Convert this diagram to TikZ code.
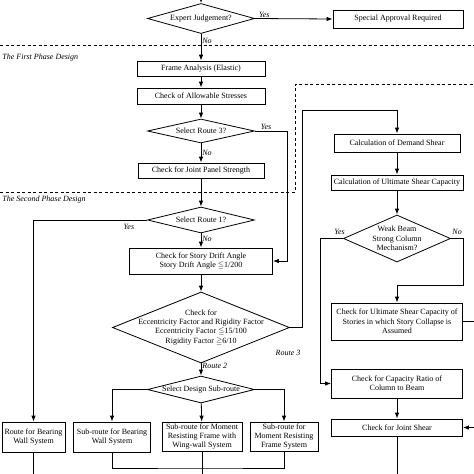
\documentclass[tikz,border=0pt]{standalone}
\usepackage{amssymb}
\usepackage{fontspec}
\setmainfont{Liberation Serif}
\usetikzlibrary{arrows.meta,shapes.geometric}

\begin{document}
\begin{tikzpicture}[x=1pt,y=-1pt,line width=0.8pt,>={Latex[length=6pt,width=4.5pt]},
    font=\fontsize{8}{9.3}\selectfont,
    box/.style={draw,align=center,inner sep=1pt},
    dec/.style={draw,diamond,inner sep=0pt},
    lbl/.style={font=\fontsize{8}{9.3}\selectfont\itshape,inner sep=1pt},
    phase/.style={dash pattern=on 3pt off 2.5pt},
    every label/.style={align=center,inner sep=0pt}]
    \useasboundingbox (0,0) rectangle (474,474);
    \node[dec,minimum width=107pt,minimum height=30pt,label={center:Expert Judgement?}] (11) at (201,18.5) {};
    \node[box,minimum width=130pt,minimum height=18pt] (21) at (398,19) {Special Approval Required};
    \node[box,minimum width=128pt,minimum height=15pt] (12) at (201,68.5) {Frame Analysis (Elastic)};
    \node[box,minimum width=128pt,minimum height=16pt] (13) at (201,96) {Check of Allowable Stresses};
    \node[dec,minimum width=107pt,minimum height=24pt,label={center:Select Route 3?}] (14) at (201,131) {};
    \node[box,minimum width=126pt,minimum height=15pt] (15) at (201,170.5) {Check for Joint Panel Strength};
    \node[dec,minimum width=107pt,minimum height=26pt,label={center:Select Route 1?}] (16) at (201,220) {};
    \node[box,minimum width=143pt,minimum height=26pt] (17) at (201,261) {Check for Story Drift Angle\\Story Drift Angle $\leqq$1/200};
    \node[dec,minimum width=177pt,minimum height=71pt,label={center:Check for\\Eccentricity Factor and Rigidity Factor\\Eccentricity Factor $\leqq$15/100\\Rigidity Factor $\geqq$6/10}] (18) at (201,327.5) {};
    \node[dec,minimum width=107pt,minimum height=27pt,label={center:Select Design Sub-route}] (19) at (201,389.5) {};
    \node[box,minimum width=63pt,minimum height=30pt] (41) at (33.5,437) {Route for Bearing\\Wall System};
    \node[box,minimum width=77pt,minimum height=30pt] (42) at (112,437) {Sub-route for Bearing\\Wall System};
    \node[box,minimum width=80pt,minimum height=29pt] (43) at (202,436.5) {Sub-route for Moment\\Resisting Frame with\\Wing-wall System};
    \node[box,minimum width=68pt,minimum height=29pt] (44) at (284,436.5) {Sub-route for\\Moment Resisting\\Frame System};
    \node[box,minimum width=126pt,minimum height=18pt] (31) at (397,143) {Calculation of Demand Shear};
    \node[box,minimum width=132pt,minimum height=15pt] (32) at (397,182.5) {Calculation of Ultimate Shear Capacity};
    \node[dec,minimum width=107pt,minimum height=47pt,label={center:Weak Beam\\Strong Column\\Mechanism?}] (33) at (397,238.5) {};
    \node[box,minimum width=131pt,minimum height=37pt] (34) at (397,321.5) {Check for Ultimate Shear Capacity of\\Stories in which Story Collapse is\\Assumed};
    \node[box,minimum width=131pt,minimum height=29pt] (35) at (397,383.5) {Check for Capacity Ratio of\\Column to Beam};
    \node[box,minimum width=131pt,minimum height=17pt] (36) at (397,427.5) {Check for Joint Shear};
    \node[lbl] (61) at (288,353) {Route 3};
    \node[lbl,anchor=west] (62) at (1,58) {The First Phase Design};
    \node[lbl,anchor=west] (63) at (1,200) {The Second Phase Design};
    \coordinate (51) at (302,110);
    \coordinate (52) at (202,468);
    \coordinate (53) at (0,480);
    \coordinate (54) at (201,-5);
    \coordinate (55) at (480,0);
    \draw[phase] (0,45) -- (474,45);
    \draw[phase] (0,192) -- (295,192) -- (295,84) -- (474,84);
    \draw[->] (54) -- (11.north);
    \draw[->] (11.east) -- node[lbl,above,pos=0.12] {Yes} (21.west);
    \draw[->] (11.south) -- node[lbl,right,pos=0.25] {No} (12.north);
    \draw[->] (12) -- (13);
    \draw[->] (13) -- (14);
    \draw[->] (14.east) -- node[lbl,above,pos=0.35] {Yes} ++(32,0) |- (17.east);
    \draw[->] (14.south) -- node[lbl,right] {No} (15.north);
    \draw[->] (15) -- (16);
    \draw[->] (16.west) -| node[lbl,below=2.5pt,pos=0.08] {Yes} (41.north);
    \draw[->] (16.south) -- node[lbl,right,pos=0.4] {No} (17.north);
    \draw[->] (17) -- (18);
    \draw[->] (18.east) -| (51) -| (31.north);
    \draw[->] (18.south) -- node[lbl,right,pos=0.2] {Route 2} (19.north);
    \draw[->] (19.west) -| (42.north);
    \draw[->] (19) -- (43);
    \draw[->] (19.east) -| (44.north);
    \draw (42.south) |- (52) -| (44.south);
    \draw (43.south) -- (43.south |- 53);
    \draw (41.south) -- (41.south |- 53);
    \draw[->] (31) -- (32);
    \draw[->] (32) -- (33);
    \draw[->] (33.west) -- node[lbl,above=3pt,pos=0.15] {Yes} ++(-23,0) |- (35.west);
    \draw[->] (33.east) -- node[lbl,above=3pt] {No} ++(12.5,0) -- ++(0,46.5) -| (34.north);
    \draw (34.east) -- ++(20,0);
    \draw[->] (35) -- (36);
    \draw[->] (36.east -| 55) -- (36.east);
    \draw (36.south) -- (36.south |- 53);
\end{tikzpicture}
\end{document}
